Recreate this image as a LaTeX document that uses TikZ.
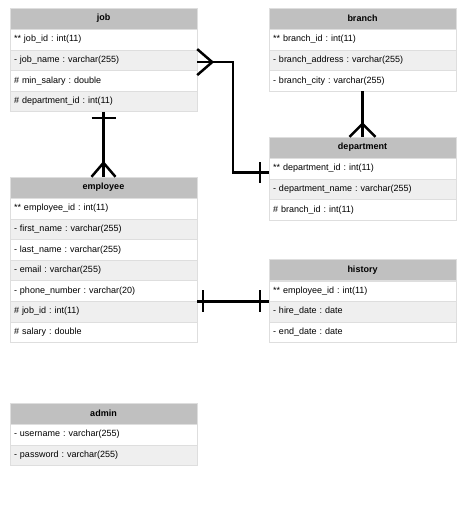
\documentclass[tikz,border=0pt]{standalone}
\usepackage{fontspec}
\setmainfont{Liberation Sans}
\usetikzlibrary{positioning,calc}
\definecolor{hdrgrey}{RGB}{192,192,192}
\definecolor{rowgrey}{RGB}{239,239,239}
\definecolor{edgegrey}{RGB}{222,222,222}
\frenchspacing

\begin{document}
\begin{tikzpicture}[x=1pt,y=-1pt,
    hdr/.style={draw=edgegrey,fill=hdrgrey,minimum width=187pt,minimum height=21pt,inner sep=0pt,font=\fontsize{9}{10}\selectfont\bfseries},
    fld/.style={draw=edgegrey,anchor=north,minimum height=20.6pt,text width=179pt,inner xsep=4pt,inner ysep=0pt,align=left,font=\fontsize{9}{10}\selectfont},
    odd/.style={fld,fill=white},
    even/.style={fld,fill=rowgrey},
    rel/.style={line width=2.5pt,black}]
  \useasboundingbox (0,0) rectangle (474,525);

  % tables
  \node[hdr] (job) at (103.5,18.5) {job};
  \foreach \t/\s [count=\i] in {** job\_id : int(11)/odd,- job\_name : varchar(255)/even,
      \# min\_salary : double/odd,\# department\_id : int(11)/even}
    \node[\s] (job\i) at (103.5,{29+20.6*(\i-1)}) {\t};

  \node[hdr] (branch) at (362.5,18.5) {branch};
  \foreach \t/\s [count=\i] in {** branch\_id : int(11)/odd,- branch\_address : varchar(255)/even,
      - branch\_city : varchar(255)/odd}
    \node[\s] (branch\i) at (362.5,{29+20.6*(\i-1)}) {\t};

  \node[hdr] (dep) at (362.5,147.5) {department};
  \foreach \t/\s [count=\i] in {** department\_id : int(11)/odd,- department\_name : varchar(255)/even,
      \# branch\_id : int(11)/odd}
    \node[\s] (dep\i) at (362.5,{158+20.6*(\i-1)}) {\t};

  \node[hdr] (emp) at (103.5,187.5) {employee};
  \foreach \t/\s [count=\i] in {** employee\_id : int(11)/odd,- first\_name : varchar(255)/even,
      - last\_name : varchar(255)/odd,- email : varchar(255)/even,- phone\_number : varchar(20)/odd,
      \# job\_id : int(11)/even,\# salary : double/odd}
    \node[\s] (emp\i) at (103.5,{198+20.6*(\i-1)}) {\t};

  \node[hdr] (hist) at (362.5,270) {history};
  \foreach \t/\s [count=\i] in {** employee\_id : int(11)/odd,- hire\_date : date/even,
      - end\_date : date/odd}
    \node[\s] (hist\i) at (362.5,{280.5+20.6*(\i-1)}) {\t};

  \node[hdr] (admin) at (103.5,413.5) {admin};
  \foreach \t/\s [count=\i] in {- username : varchar(255)/odd,- password : varchar(255)/even}
    \node[\s] (admin\i) at (103.5,{424+20.6*(\i-1)}) {\t};

  % job -- employee
  \draw[rel] (job4.south) -- (emp.north);
  \draw[rel] ([xshift=-12pt,yshift=-6pt]job4.south) -- ([xshift=12pt,yshift=-6pt]job4.south);
  \draw[rel] ([xshift=-12pt]emp.north) -- ([yshift=14pt]emp.north) -- ([xshift=12pt]emp.north);

  % job -- department
  \coordinate (jobout) at ([yshift=-2pt]job2.east);
  \coordinate (depin) at ([yshift=-4pt]dep1.west);
  \draw[rel] (jobout) -- ++(36,0) |- (depin);
  \draw[rel] ([yshift=13pt]jobout) -- ([xshift=15pt]jobout) -- ([yshift=-13pt]jobout);
  \draw[rel] ([xshift=-9pt,yshift=10.5pt]depin) -- ([xshift=-9pt,yshift=-10.5pt]depin);

  % branch -- department
  \draw[rel] (branch3.south) -- (dep.north);
  \draw[rel] ([xshift=-13pt]dep.north) -- ([yshift=13pt]dep.north) -- ([xshift=13pt]dep.north);

  % employee -- history
  \coordinate (empout) at (emp5.south east);
  \coordinate (histin) at (empout -| hist1.west);
  \draw[rel] (empout) -- (histin);
  \draw[rel] ([xshift=6pt,yshift=11pt]empout) -- ([xshift=6pt,yshift=-11pt]empout);
  \draw[rel] ([xshift=-9pt,yshift=11pt]histin) -- ([xshift=-9pt,yshift=-11pt]histin);
\end{tikzpicture}
\end{document}
